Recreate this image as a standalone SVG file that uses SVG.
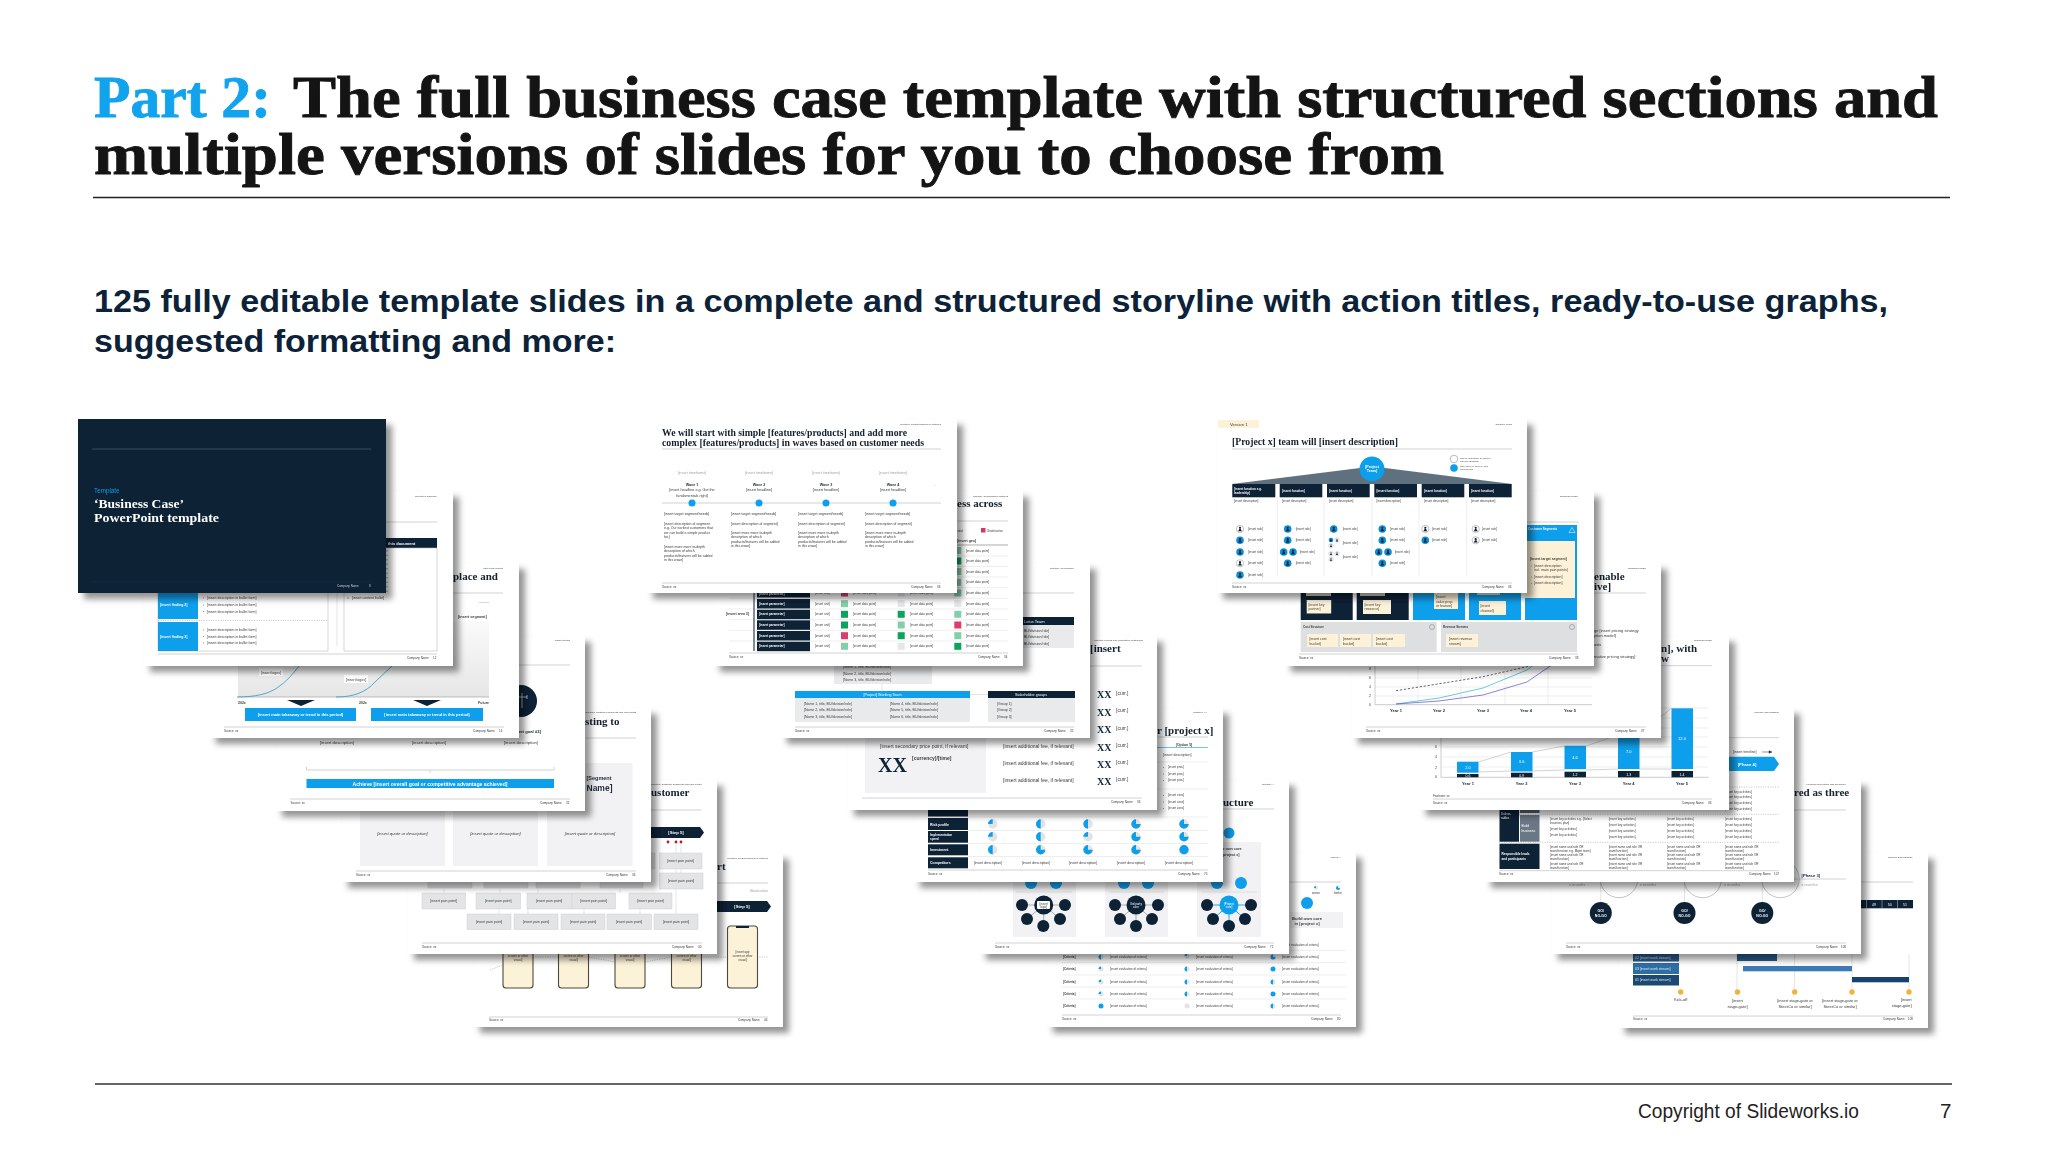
<svg xmlns="http://www.w3.org/2000/svg" xmlns:xlink="http://www.w3.org/1999/xlink" width="2048" height="1152" viewBox="0 0 2048 1152">
<style>
text{font-family:"Liberation Sans",Arial,sans-serif;fill:#3c3c3c}
.ti{font-family:"Liberation Serif","Times New Roman",serif;font-weight:700;font-size:59px;fill:#141414;stroke:#141414;stroke-width:.9}
.su{font-weight:700;font-size:32px;fill:#0b2238}
.st{font-family:"Liberation Serif",serif;font-weight:700;font-size:11px;fill:#12202e}
.f25{font-size:3px}.f25.e{font-size:2.5px}.f3{font-size:3.5px}.f33{font-size:3.7px}.f35{font-size:4px}.f4{font-size:4.2px}.f5{font-size:5px}
.b{font-weight:700}.m{text-anchor:middle}.e{text-anchor:end}.w{fill:#fff}.g{fill:#a5a5a5}.i{font-style:italic}.k{fill:#20303e}
.slide{fill:#fff;filter:url(#sh)}
.r{stroke:#c6c6c6;stroke-width:.8;fill:none}.rl{stroke:#e2e2e2;stroke-width:.6;fill:none}
.navy{fill:#0a2136}.blue{fill:#0b9fec}.gb{fill:#f2f2f4}.pp{fill:#e3e4e6;stroke:#cfcfcf;stroke-width:.5}.bg{fill:#fdf1d8}
.phone{fill:#fcf2d8;stroke:#4b4a40;stroke-width:1.1}
.dash{stroke:#999;stroke-width:.5;stroke-dasharray:1.2 1.2;fill:none}
.ln{stroke:#c9c9c9;stroke-width:.5;fill:none}
</style>
<defs>
<filter id="sh" x="-5%" y="-5%" width="112%" height="120%"><feDropShadow dx="6" dy="6" stdDeviation="3" flood-color="#000" flood-opacity=".42"/></filter>
<filter id="soft" filterUnits="userSpaceOnUse" x="0" y="380" width="2048" height="700"><feGaussianBlur stdDeviation=".3"/></filter>
<linearGradient id="gr" x1="0" y1="0" x2="0" y2="1"><stop offset="0" stop-color="#fafafa"/><stop offset="1" stop-color="#e6e6e6"/></linearGradient>
<g id="h0"><circle r="10" fill="#e3e3e3"/></g>
<g id="h25"><circle r="10" fill="#e3e3e3"/><path d="M0,0L0,-10A10,10 0 0 0 -10,0Z" fill="#0b9fec"/></g>
<g id="h50"><circle r="10" fill="#e3e3e3"/><path d="M0,-10A10,10 0 0 0 0,10Z" fill="#0b9fec"/></g>
<g id="h75"><circle r="10" fill="#e3e3e3"/><path d="M0,0L0,-10A10,10 0 1 0 10,0Z" fill="#0b9fec"/></g>
<g id="h100"><circle r="10" fill="#0b9fec"/></g>
<g id="pb"><circle r="10" fill="#0b8fd6"/><circle cy="-3" r="2.8" fill="#0a2136"/><path d="M-5,6L-2,0H2L5,6Z" fill="#0a2136"/></g>
<g id="po"><circle r="9.5" fill="#fff" stroke="#777" stroke-width="1.2"/><circle cy="-3" r="2.8" fill="#0a2136"/><path d="M-5,6L-2,0H2L5,6Z" fill="#0a2136"/></g>
</defs>
<rect width="2048" height="1152" fill="#fff"/>

<g id="heading">
<text class="ti"><tspan x="94" y="117" textLength="177" lengthAdjust="spacingAndGlyphs" style="fill:#12a3ee;stroke:#12a3ee">Part 2:</tspan><tspan x="293" y="117" textLength="1645" lengthAdjust="spacingAndGlyphs">The full business case template with structured sections and</tspan><tspan x="94" y="174" textLength="1350" lengthAdjust="spacingAndGlyphs">multiple versions of slides for you to choose from</tspan></text>
<line x1="93" y1="197.5" x2="1950" y2="197.5" stroke="#222" stroke-width="1.6"/>
<text class="su"><tspan x="94" y="312" textLength="1794" lengthAdjust="spacingAndGlyphs">125 fully editable template slides in a complete and structured storyline with action titles, ready-to-use graphs,</tspan><tspan x="94" y="352" textLength="522" lengthAdjust="spacingAndGlyphs">suggested formatting and more:</tspan></text>
</g>

<g id="footer">
<line x1="95" y1="1084" x2="1952" y2="1084" stroke="#333" stroke-width="1.6"/>
<text x="1638" y="1118" font-size="20.5" style="fill:#222" textLength="221" lengthAdjust="spacingAndGlyphs">Copyright of Slideworks.io</text>
<text x="1940" y="1118" font-size="20.5" style="fill:#222">7</text>
</g>

<g id="stack-1" filter="url(#soft)">
<g id="s1-7">
<rect class="slide" x="474" y="853" width="309" height="174"/>
<text class="f25 e" x="768" y="858.5">Solution: Product offering or features</text>
<text class="st" x="717" y="870">rt</text>
<line class="r" x1="717" y1="883" x2="768" y2="883"/>
<text class="f35 e g" x="768" y="892">Illustrative</text>
<path class="navy" d="M712,901H767L771,906.5L767,912H712Z"/>
<text class="f4 w b m" x="742" y="908">[Step 5]</text>
<path class="dash" d="M490,970L503,965M533,957H558M589,957L615,962M645,962L671,957M701,957H727M757,957H768"/>
<rect class="phone" x="503" y="926" width="30" height="62" rx="3"/><rect class="phone" x="558.5" y="926" width="30" height="62" rx="3"/><rect class="phone" x="615" y="926" width="30" height="62" rx="3"/><rect class="phone" x="671.5" y="926" width="30" height="62" rx="3"/><rect class="phone" x="727.5" y="926" width="30" height="62" rx="3"/>
<rect class="navy" x="736" y="926" width="13" height="2"/>
<text class="f25 m" x="518" y="957">screen or other</text><text class="f25 m" x="518" y="961">visual]</text>
<text class="f25 m" x="573.5" y="957">screen or other</text><text class="f25 m" x="573.5" y="961">visual]</text>
<text class="f25 m" x="630" y="957">screen or other</text><text class="f25 m" x="630" y="961">visual]</text>
<text class="f25 m" x="686.5" y="957">screen or other</text><text class="f25 m" x="686.5" y="961">visual]</text>
<text class="f25 m" x="742.5" y="953">[insert app</text><text class="f25 m" x="742.5" y="957">screen or other</text><text class="f25 m" x="742.5" y="961">visual]</text>
<line class="r" x1="489" y1="1017" x2="768" y2="1017"/>
<text class="f25" x="489" y="1021">Source: xx</text><text class="f25" x="738" y="1021">Company Name</text><text class="f25" x="764" y="1021">46</text>
</g>
<g id="s1-6">
<rect class="slide" x="408" y="780" width="309" height="174"/>
<text class="f25 e" x="701.5" y="785">Solution: Customer segments and pain points</text>
<text class="st" x="651" y="796">ustomer</text>
<line class="r" x1="651" y1="810" x2="701.5" y2="810"/>
<path class="navy" d="M645,827H700L704,832.5L700,838H645Z"/>
<text class="f4 w b m" x="676" y="834">[Step 5]</text>
<circle cx="668" cy="842" r="1.4" fill="#c3122b"/><circle cx="676" cy="842" r="1.4" fill="#c3122b"/><circle cx="681" cy="842" r="1.4" fill="#c3122b"/>
<path class="ln" d="M676,843V853M681,843V853M676,869V873M681,869V873M676,889V914M500,889V893M444,889V893M538,889V893M620,889V893M499,909V914M528,909V914M584,909V914M640,909V914"/>
<rect class="pp" x="645" y="853" width="10" height="16"/><rect class="pp" x="659.5" y="853" width="42.5" height="16"/><text class="f3 m" x="680.5" y="862">[insert pain point]</text>
<rect class="pp" x="659.5" y="873" width="43.5" height="16"/><text class="f3 m" x="681" y="882">[insert pain point]</text>
<rect class="pp" x="428" y="880" width="44" height="8"/><rect class="pp" x="484" y="880" width="44" height="8"/><rect class="pp" x="536" y="880" width="44" height="8"/><rect class="pp" x="600" y="880" width="43" height="8"/>
<rect class="pp" x="422" y="893" width="43.5" height="16"/><text class="f3 m" x="443.7" y="902">[insert pain point]</text>
<rect class="pp" x="476" y="893" width="44.5" height="16"/><text class="f3 m" x="498.2" y="902">[insert pain point]</text>
<rect class="pp" x="527" y="893" width="44.5" height="16"/><text class="f3 m" x="549" y="902">[insert pain point]</text>
<rect class="pp" x="572" y="893" width="43.5" height="16"/><text class="f3 m" x="593.7" y="902">[insert pain point]</text>
<rect class="pp" x="629" y="893" width="43" height="16"/><text class="f3 m" x="650.5" y="902">[insert pain point]</text>
<rect class="pp" x="467" y="914" width="44" height="15.5"/><text class="f3 m" x="489" y="923">[insert pain point]</text>
<rect class="pp" x="514" y="914" width="44" height="15.5"/><text class="f3 m" x="536" y="923">[insert pain point]</text>
<rect class="pp" x="561" y="914" width="44" height="15.5"/><text class="f3 m" x="583" y="923">[insert pain point]</text>
<rect class="pp" x="607" y="914" width="44.5" height="15.5"/><text class="f3 m" x="629" y="923">[insert pain point]</text>
<rect class="pp" x="654" y="914" width="44" height="15.5"/><text class="f3 m" x="676" y="923">[insert pain point]</text>
<line class="r" x1="422" y1="943" x2="702" y2="943"/>
<text class="f25" x="422" y="947.5">Source: xx</text><text class="f25" x="672" y="947.5">Company Name</text><text class="f25" x="698" y="947.5">40</text>
</g>
<g id="s1-5">
<rect class="slide" x="342" y="708" width="309" height="174"/>
<text class="f25 e" x="636" y="713">Solution: Customer segments and pain points</text>
<text class="st" x="585" y="725">sting to</text>
<line class="r" x1="585" y1="738" x2="636" y2="738"/>
<rect class="gb" x="547" y="763" width="85.6" height="103"/><rect class="gb" x="360" y="800" width="85" height="66"/><rect class="gb" x="453" y="800" width="85" height="66"/>
<text class="b k" x="586.5" y="780" font-size="5.5">[Segment</text><text class="b k" x="586.5" y="790.5" font-size="8.5">Name]</text>
<text class="f4 i m" x="402.5" y="835">[insert quote or description]</text><text class="f4 i m" x="495.5" y="835">[insert quote or description]</text><text class="f4 i m" x="590" y="835">[insert quote or description]</text>
<line class="r" x1="356" y1="871" x2="636" y2="871"/>
<text class="f25" x="356" y="875.5">Source: xx</text><text class="f25" x="606" y="875.5">Company Name</text><text class="f25" x="632" y="875.5">36</text>
</g>
<g id="s1-4">
<rect class="slide" x="276" y="636" width="309" height="175"/>
<text class="f25 e" x="570" y="641">Market trends</text>
<line class="r" x1="518" y1="665" x2="570" y2="665"/>
<circle class="navy" cx="521" cy="701" r="16"/>
<path d="M518,697H527M522,693V708M527,695V699" stroke="#fff" stroke-width=".6" fill="none"/>
<text class="b k f4 e" x="541" y="732.5">[insert goal #3]</text>
<text class="f4 m" x="337" y="743.5">[insert description]</text><text class="f4 m" x="429" y="743.5">[insert description]</text><text class="f4 m" x="521" y="743.5">[insert description]</text>
<path class="r" d="M306.5,767V770H554V767M430,770V773"/>
<rect class="blue" x="306.5" y="779" width="247.5" height="9"/>
<text class="b w m" x="430" y="785.7" font-size="5.2" textLength="155" lengthAdjust="spacingAndGlyphs">Achieve [insert overall goal or competitive advantage achieved]</text>
<line class="r" x1="290" y1="799" x2="570" y2="799"/>
<text class="f25" x="290.5" y="803.5">Source: xx</text><text class="f25" x="540" y="803.5">Company Name</text><text class="f25" x="566" y="803.5">31</text>
</g>
<g id="s1-3">
<rect class="slide" x="210" y="563" width="309" height="175"/>
<text class="f25 e" x="503" y="569">Part of the market</text>
<text class="st" x="453" y="580">place and</text>
<line class="r" x1="453" y1="593" x2="503" y2="593"/>
<text class="f25 e g" x="490" y="603">Illustrative</text>
<text class="f33 b" x="458" y="618">[insert segment]</text>
<rect x="238" y="622" width="251" height="75" fill="url(#gr)"/>
<line x1="238" y1="697" x2="489" y2="697" stroke="#999" stroke-width=".6"/>
<path d="M237,697C255,697 268,694 277,688C286,682 293,674 299,666M336,697C354,697 366,692 375,682L392,666" stroke="#2a98cc" stroke-width=".8" fill="none"/>
<rect x="259" y="668" width="24" height="8" fill="#fff"/><text class="f3 m" x="271" y="673.5">[insert logos]</text>
<rect x="344" y="675" width="24" height="8" fill="#fff"/><text class="f3 m" x="356" y="680.5">[insert logos]</text>
<text class="f3 b" x="238" y="703.5">202x</text><text class="f3 b" x="359" y="703.5">202x</text><text class="f3 b e" x="489" y="703.5">Future</text>
<path class="navy" d="M287,700H315L301,706ZM413,700H441L427,706Z"/>
<rect class="blue" x="245" y="708" width="111" height="13"/><rect class="blue" x="371" y="708" width="112" height="13"/>
<text class="f35 b w m" x="300.5" y="716">[insert main takeaway or trend in this period]</text>
<text class="f35 b w m" x="427" y="716">[insert main takeaway or trend in this period]</text>
<line class="r" x1="224" y1="727" x2="504" y2="727"/>
<text class="f25" x="224" y="731.5">Source: xx</text><text class="f25" x="473" y="731.5">Company Name</text><text class="f25" x="499" y="731.5">14</text>
</g>
<g id="s1-2">
<rect class="slide" x="144" y="491" width="309" height="175"/>
<text class="f25 e" x="437" y="497">Executive summary</text>
<line class="r" x1="386" y1="522" x2="437" y2="522"/>
<rect class="navy" x="344" y="538" width="93" height="10"/>
<text class="b w" x="388" y="544.7" font-size="4">this document</text>
<rect x="344" y="548" width="93" height="103" fill="none" stroke="#bbb" stroke-width=".6"/>
<rect x="158" y="560" width="170" height="91" fill="none" stroke="#bbb" stroke-width=".6"/>
<line x1="387" y1="550" x2="387" y2="592" stroke="#666" stroke-width=".8" stroke-dasharray="1.5 3"/>
<text class="f3" x="352" y="599">[insert content bullet]</text><circle cx="348" cy="598" r=".6" fill="#444"/>
<rect class="blue" x="158" y="560" width="40" height="59"/><rect class="blue" x="158" y="622" width="40" height="29"/>
<text class="f3 b w" x="160" y="606.3">[insert finding 2]</text><text class="f3 b w" x="160" y="637.7">[insert finding 3]</text>
<line class="dash" x1="158" y1="620.5" x2="327" y2="620.5"/>
<line class="ln" x1="337" y1="560" x2="337" y2="646"/>
<text class="f3" x="207" y="599">[insert description in bullet form]</text><text class="f3" x="207" y="606">[insert description in bullet form]</text><text class="f3" x="207" y="612.5">[insert description in bullet form]</text>
<text class="f3" x="207" y="631">[insert description in bullet form]</text><text class="f3" x="207" y="637.5">[insert description in bullet form]</text><text class="f3" x="207" y="644">[insert description in bullet form]</text>
<path d="M203,598h.8M203,605h.8M203,611.5h.8M203,630h.8M203,636.5h.8M203,643h.8" stroke="#555" stroke-width=".8"/>
<line class="r" x1="158" y1="654" x2="437" y2="654"/>
<text class="f25" x="407" y="658.5">Company Name</text><text class="f25" x="433" y="658.5">12</text>
</g>
<g id="s1-1">
<rect x="78" y="419" width="308" height="174" fill="#0a2136" filter="url(#sh)"/>
<line x1="92" y1="449" x2="371" y2="449" stroke="#4e6274" stroke-width=".7"/>
<text x="94" y="493" font-size="6.3" style="fill:#1499e0">Template</text>
<text class="st w" x="94" y="508" style="fill:#fff;font-size:12.6px" textLength="90" lengthAdjust="spacingAndGlyphs">‘Business Case’</text>
<text class="st w" x="94" y="522" style="fill:#fff;font-size:12.6px" textLength="125" lengthAdjust="spacingAndGlyphs">PowerPoint template</text>
<line x1="92" y1="582" x2="371" y2="582" stroke="#1c3347" stroke-width=".6"/>
<text class="f25" x="337" y="587" style="fill:#ccd">Company Name</text><text class="f25" x="369" y="587" style="fill:#ccd">8</text>
</g>
</g>

<g id="stack-2" filter="url(#soft)">
<g id="s2-7">
<rect class="slide" x="1047" y="852" width="309" height="175"/>
<text class="f25 e" x="1341" y="857.5">Assess: Y</text>
<line class="r" x1="1289" y1="882" x2="1341" y2="882"/>
<use href="#h25" transform="translate(1316,888) scale(.2)"/><use href="#h75" transform="translate(1338,888) scale(.2)"/>
<text class="f25 m" x="1316" y="894">worse</text><text class="f25 m" x="1338" y="894">better</text>
<rect class="gb" x="1290" y="912" width="53" height="16"/>
<circle class="blue" cx="1307" cy="903" r="6"/>
<text class="f4 b m" x="1307" y="919.5">Build own core</text><text class="f4 b m" x="1307" y="925">in [project x]</text>
<path class="rl" d="M1062,950.5H1346M1062,962.7H1346M1062,975H1346M1062,987H1346M1062,999H1346"/>
<text class="f25" x="1282" y="946">[insert evaluation of criteria]</text>
<text class="f25 b" x="1063" y="958">[Criteria]</text><text class="f25 b" x="1063" y="970">[Criteria]</text><text class="f25 b" x="1063" y="983">[Criteria]</text><text class="f25 b" x="1063" y="995">[Criteria]</text><text class="f25 b" x="1063" y="1007">[Criteria]</text>
<text class="f25" x="1110" y="958">[insert evaluation of criteria]</text><text class="f25" x="1196" y="958">[insert evaluation of criteria]</text><text class="f25" x="1282" y="958">[insert evaluation of criteria]</text>
<text class="f25" x="1110" y="970">[insert evaluation of criteria]</text><text class="f25" x="1196" y="970">[insert evaluation of criteria]</text><text class="f25" x="1282" y="970">[insert evaluation of criteria]</text>
<text class="f25" x="1110" y="983">[insert evaluation of criteria]</text><text class="f25" x="1196" y="983">[insert evaluation of criteria]</text><text class="f25" x="1282" y="983">[insert evaluation of criteria]</text>
<text class="f25" x="1110" y="995">[insert evaluation of criteria]</text><text class="f25" x="1196" y="995">[insert evaluation of criteria]</text><text class="f25" x="1282" y="995">[insert evaluation of criteria]</text>
<text class="f25" x="1110" y="1007">[insert evaluation of criteria]</text><text class="f25" x="1196" y="1007">[insert evaluation of criteria]</text><text class="f25" x="1282" y="1007">[insert evaluation of criteria]</text>
<use href="#h50" transform="translate(1101,957) scale(.25)"/><use href="#h25" transform="translate(1187,956) scale(.25)"/><use href="#h75" transform="translate(1273,957) scale(.25)"/>
<use href="#h25" transform="translate(1101,969) scale(.25)"/><use href="#h50" transform="translate(1187,969) scale(.25)"/><use href="#h100" transform="translate(1273,969) scale(.25)"/>
<use href="#h25" transform="translate(1101,982) scale(.25)"/><use href="#h50" transform="translate(1187,982) scale(.25)"/><use href="#h50" transform="translate(1273,982) scale(.25)"/>
<use href="#h25" transform="translate(1101,994) scale(.25)"/><use href="#h50" transform="translate(1187,994) scale(.25)"/><use href="#h100" transform="translate(1273,994) scale(.25)"/>
<use href="#h100" transform="translate(1101,1006) scale(.25)"/><use href="#h0" transform="translate(1187,1006) scale(.25)"/><use href="#h50" transform="translate(1273,1006) scale(.25)"/>
<line class="r" x1="1062" y1="1015" x2="1341" y2="1015"/>
<text class="f25" x="1062" y="1019.5">Source: xx</text><text class="f25" x="1311" y="1019.5">Company Name</text><text class="f25" x="1337" y="1019.5">80</text>
</g>
<g id="s2-6">
<rect class="slide" x="980" y="780" width="309" height="174"/>
<text class="f25 e" x="1274" y="785">Solution: Y</text>
<text class="st" x="1223" y="806">ucture</text>
<line class="r" x1="1223" y1="809" x2="1274" y2="809"/>
<rect class="gb" x="1197" y="842" width="64" height="95"/><rect class="gb" x="1013" y="870" width="63" height="67"/><rect class="gb" x="1105" y="870" width="63" height="67"/>
<circle class="blue" cx="1229" cy="833" r="5.5"/>
<text class="f33 b" x="1223" y="850">r own core</text><text class="f33 b" x="1223" y="855.5">project x]</text>
<circle class="blue" cx="1031" cy="883" r="6"/><circle class="blue" cx="1056" cy="883" r="6"/><circle class="blue" cx="1124" cy="883" r="6"/><circle class="blue" cx="1148" cy="883" r="6"/><circle class="blue" cx="1217" cy="883" r="6"/><circle class="blue" cx="1241" cy="883" r="6"/>
<path class="ln" d="M1016,892H1072M1109,892H1164M1202,892H1257"/>
<path d="M1022,905H1065M1043.7,905L1027,919M1043.7,905L1060,919M1043.7,905V926M1115,905H1158M1136,905L1120,919M1136,905L1152,919M1136,905V926" stroke="#5b6a78" stroke-width=".5"/>
<path d="M1207,905H1251M1229,905L1213,919M1229,905L1245,919M1229,905V926" stroke="#0b9fec" stroke-width=".9"/>
<g class="navy"><circle cx="1022" cy="905" r="6"/><circle cx="1065" cy="905" r="6"/><circle cx="1027" cy="919" r="6"/><circle cx="1060" cy="919" r="6"/><circle cx="1043.3" cy="926" r="6"/><circle cx="1043.7" cy="905" r="9.5"/>
<circle cx="1115" cy="905" r="6"/><circle cx="1158" cy="905" r="6"/><circle cx="1120" cy="919" r="6"/><circle cx="1152" cy="919" r="6"/><circle cx="1136" cy="926" r="6"/><circle cx="1136" cy="905" r="9.5"/>
<circle cx="1207" cy="905" r="6"/><circle cx="1251" cy="905" r="6"/><circle cx="1213" cy="919" r="6"/><circle cx="1245" cy="919" r="6"/><circle cx="1229" cy="926" r="6"/></g>
<rect x="1037" y="901" width="13" height="8" rx="1" fill="#fff"/><text class="f25 m" x="1043.7" y="904.5">[insert</text><text class="f25 m" x="1043.7" y="907.7">logo]</text>
<text class="f25 m w" x="1136" y="904.5">3rd party</text><text class="f25 m w" x="1136" y="907.7">core</text>
<circle class="blue" cx="1229" cy="905" r="9.5"/>
<text class="f25 m w" x="1229" y="904.5">[Project</text><text class="f25 m w" x="1229" y="907.7">core]</text>
<line class="r" x1="995" y1="943" x2="1274" y2="943"/>
<text class="f25" x="995" y="947.5">Source: xx</text><text class="f25" x="1244" y="947.5">Company Name</text><text class="f25" x="1270" y="947.5">71</text>
</g>
<g id="s2-5">
<rect class="slide" x="914" y="708" width="309" height="174"/>
<text class="f25 e" x="1207" y="713">Solution: XY</text>
<text class="st" x="1157" y="734">r [project x]</text>
<line class="r" x1="1157" y1="737" x2="1208" y2="737"/>
<text class="f3 b m" x="1184" y="746">[Option 5]</text>
<line x1="1157" y1="747.5" x2="1208" y2="747.5" stroke="#0b9fec" stroke-width=".6"/>
<text class="f3" x="1163" y="756">[insert description]</text>
<path class="rl" d="M1157,762H1208M1157,789H1208M928,817H1208M968,830.5H1208M968,843.5H1208M968,856.5H1208"/>
<text class="f25" x="1168" y="768">[insert pros]</text><text class="f25" x="1168" y="774.5">[insert pros]</text><text class="f25" x="1168" y="781">[insert pros]</text>
<text class="f25" x="1168" y="796">[insert cons]</text><text class="f25" x="1168" y="802.5">[insert cons]</text><text class="f25" x="1168" y="809">[insert cons]</text>
<path d="M1163,767.5h.8M1163,774h.8M1163,780.5h.8M1163,795.5h.8M1163,802h.8M1163,808.5h.8" stroke="#555" stroke-width=".7"/>
<g class="navy"><rect x="928" y="805" width="40" height="11.5"/><rect x="928" y="818" width="40" height="12"/><rect x="928" y="831" width="40" height="11.7"/><rect x="928" y="844.3" width="40" height="11"/><rect x="928" y="857.3" width="40" height="11"/></g>
<text class="f3 b w" x="930" y="825.5">Risk profile</text><text class="f25 b w" x="930" y="836">Implementation</text><text class="f25 b w" x="930" y="840">speed</text><text class="f3 b w" x="930" y="851">Investment</text><text class="f3 b w" x="930" y="864">Competitors</text>
<use href="#h25" transform="translate(992.7,824) scale(.47)"/><use href="#h50" transform="translate(1040.7,824) scale(.47)"/><use href="#h50" transform="translate(1088,824) scale(.47)"/><use href="#h75" transform="translate(1136,824) scale(.47)"/><use href="#h75" transform="translate(1184,824) scale(.47)"/>
<use href="#h25" transform="translate(992.7,836.7) scale(.47)"/><use href="#h50" transform="translate(1040.7,836.7) scale(.47)"/><use href="#h25" transform="translate(1088,836.7) scale(.47)"/><use href="#h75" transform="translate(1136,836.7) scale(.47)"/><use href="#h75" transform="translate(1184,836.7) scale(.47)"/>
<use href="#h50" transform="translate(992.7,849.7) scale(.47)"/><use href="#h75" transform="translate(1040.7,849.7) scale(.47)"/><use href="#h75" transform="translate(1088,849.7) scale(.47)"/><use href="#h75" transform="translate(1136,849.7) scale(.47)"/><use href="#h100" transform="translate(1184,849.7) scale(.47)"/>
<text class="f3 m" x="988" y="864">[insert description]</text><text class="f3 m" x="1036" y="864">[insert description]</text><text class="f3 m" x="1083" y="864">[insert description]</text><text class="f3 m" x="1131" y="864">[insert description]</text><text class="f3 m" x="1179" y="864">[insert description]</text>
<line class="r" x1="928" y1="870" x2="1208" y2="870"/>
<text class="f25" x="928" y="875">Source: xx</text><text class="f25" x="1178" y="875">Company Name</text><text class="f25" x="1204" y="875">70</text>
</g>
<g id="s2-4">
<rect class="slide" x="848" y="636" width="309" height="174"/>
<text class="f25" x="1094" y="641" style="font-size:2.5px">Solution: Pricing and competitive positioning</text>
<text class="st" x="1090" y="652">[insert</text>
<line class="r" x1="1090" y1="666" x2="1142" y2="666"/>
<rect class="gb" x="865" y="720" width="121" height="73"/>
<text class="f5" x="880" y="748">[insert secondary price point, if relevant]</text>
<text x="878" y="772" font-size="20" font-weight="700" style="font-family:'Liberation Serif',serif;fill:#0a2136">XX</text>
<text class="f5 b" x="912" y="759.5">[currency]/[time]</text>
<text class="f5" x="1003" y="748">[insert additional fee, if relevant]</text><text class="f5" x="1003" y="765">[insert additional fee, if relevant]</text><text class="f5" x="1003" y="782">[insert additional fee, if relevant]</text>
<g style="font-size:10px;font-weight:700"><text x="1097" y="698" style="font-family:'Liberation Serif',serif;fill:#0a2136">XX</text><text x="1097" y="716" style="font-family:'Liberation Serif',serif;fill:#0a2136">XX</text><text x="1097" y="733" style="font-family:'Liberation Serif',serif;fill:#0a2136">XX</text><text x="1097" y="751" style="font-family:'Liberation Serif',serif;fill:#0a2136">XX</text><text x="1097" y="768" style="font-family:'Liberation Serif',serif;fill:#0a2136">XX</text><text x="1097" y="785" style="font-family:'Liberation Serif',serif;fill:#0a2136">XX</text></g>
<text class="f5" x="1116" y="694.5">[curr.]</text><text class="f5" x="1116" y="712">[curr.]</text><text class="f5" x="1116" y="729.5">[curr.]</text><text class="f5" x="1116" y="746.5">[curr.]</text><text class="f5" x="1116" y="763.5">[curr.]</text><text class="f5" x="1116" y="780.5">[curr.]</text>
<line class="r" x1="862" y1="798" x2="1142" y2="798"/>
<text class="f25" x="1111" y="802.5">Company Name</text><text class="f25" x="1137" y="802.5">36</text>
</g>
<g id="s2-3">
<rect class="slide" x="781" y="563" width="309" height="175"/>
<text class="f25 e" x="1074" y="569">Solution: Governance</text>
<line class="r" x1="1023" y1="593" x2="1074" y2="593"/>
<rect class="navy" x="1000" y="617" width="74" height="8"/>
<text class="f35 w" x="1024" y="622.5">Lotus Team</text>
<rect x="1000" y="625" width="74" height="23" fill="#e9eaec"/>
<text class="f3" x="1024" y="631.5">BU/division/role]</text><text class="f3" x="1024" y="638">BU/division/role]</text><text class="f3" x="1024" y="644.5">BU/division/role]</text>
<rect x="834" y="650" width="98" height="34" fill="#e9eaec"/>
<text class="f3" x="843" y="668">[Name 1, title, BU/division/role]</text><text class="f3" x="843" y="674.5">[Name 2, title, BU/division/role]</text><text class="f3" x="843" y="681">[Name 3, title, BU/division/role]</text>
<line class="ln" x1="882" y1="684" x2="882" y2="691"/><line class="ln" x1="970" y1="694.5" x2="988" y2="694.5"/>
<rect class="blue" x="795" y="691" width="175" height="7"/><text class="f33 w m" x="882.5" y="696.2">[Project] Working Team</text>
<rect x="795" y="698" width="175" height="24" fill="#e9eaec"/>
<text class="f3" x="804" y="704.5">[Name 1, title, BU/division/role]</text><text class="f3" x="804" y="711">[Name 2, title, BU/division/role]</text><text class="f3" x="804" y="717.5">[Name 3, title, BU/division/role]</text>
<text class="f3" x="890" y="704.5">[Name 4, title, BU/division/role]</text><text class="f3" x="890" y="711">[Name 5, title, BU/division/role]</text><text class="f3" x="890" y="717.5">[Name 6, title, BU/division/role]</text>
<rect class="navy" x="988" y="691" width="87" height="7"/><text class="f33 w m" x="1031" y="696.2">Stakeholder groups</text>
<rect x="988" y="698" width="87" height="24" fill="#e9eaec"/>
<text class="f3" x="997" y="704.5">[Group 1]</text><text class="f3" x="997" y="711">[Group 2]</text><text class="f3" x="997" y="717.5">[Group 3]</text>
<line class="r" x1="795" y1="727" x2="1074" y2="727"/>
<text class="f25" x="795" y="731.5">Source: xx</text><text class="f25" x="1044" y="731.5">Company Name</text><text class="f25" x="1070" y="731.5">35</text>
</g>
<g id="s2-2">
<rect class="slide" x="714" y="491" width="309" height="175"/>
<text class="f25 e" x="1008" y="497">Solution: Geographical footprint</text>
<text class="st" x="957" y="507">ess across</text>
<line class="r" x1="957" y1="521" x2="1008" y2="521"/>
<text class="f25" x="957" y="532">utral</text>
<rect x="981" y="528" width="4.5" height="4.5" fill="#d8345f"/><text class="f25" x="987" y="532">Unattractive</text>
<text class="f3 b" x="957" y="542">[insert geo]</text>
<line x1="957" y1="545" x2="1008" y2="545" stroke="#555" stroke-width=".5"/>
<path class="rl" d="M957,556H1008M957,566.5H1008M957,577H1008M957,587.7H1008M729,598.3H1008M729,609H1008M729,619.7H1008M729,630.3H1008M729,641H1008"/>
<g fill="#82cfa9"><rect x="954.3" y="547" width="7" height="7"/><rect x="954.3" y="568" width="7" height="7"/><rect x="954.3" y="578.8" width="7" height="7"/><rect x="954.3" y="589.5" width="7" height="7"/><rect x="954.3" y="610.8" width="7" height="7"/><rect x="954.3" y="632.2" width="7" height="7"/><rect x="841" y="600.2" width="7" height="7"/><rect x="841" y="642.8" width="7" height="7"/><rect x="897.7" y="621.5" width="7" height="7"/></g>
<g fill="#0aa35c"><rect x="954.3" y="557.5" width="7" height="7"/><rect x="954.3" y="642.8" width="7" height="7"/><rect x="841" y="610.8" width="7" height="7"/><rect x="841" y="621.5" width="7" height="7"/><rect x="897.7" y="610.8" width="7" height="7"/><rect x="897.7" y="632.2" width="7" height="7"/></g>
<g fill="#e6e7e9"><rect x="954.3" y="600.2" width="7" height="7"/><rect x="897.7" y="600.2" width="7" height="7"/><rect x="897.7" y="642.8" width="7" height="7"/><rect x="897.7" y="589.5" width="7" height="7"/></g>
<g fill="#dd3d6b"><rect x="954.3" y="621.5" width="7" height="7"/><rect x="841" y="632.2" width="7" height="7"/><rect x="841" y="589.5" width="7" height="7"/></g>
<text class="f25" x="966" y="551.5">[insert data point]</text><text class="f25" x="966" y="562">[insert data point]</text><text class="f25" x="966" y="572.7">[insert data point]</text><text class="f25" x="966" y="583.3">[insert data point]</text><text class="f25" x="966" y="594">[insert data point]</text><text class="f25" x="966" y="604.7">[insert data point]</text><text class="f25" x="966" y="615.3">[insert data point]</text><text class="f25" x="966" y="626">[insert data point]</text><text class="f25" x="966" y="636.7">[insert data point]</text><text class="f25" x="966" y="647.3">[insert data point]</text>
<text class="f25" x="910" y="594">[insert data point]</text><text class="f25" x="910" y="604.7">[insert data point]</text><text class="f25" x="910" y="615.3">[insert data point]</text><text class="f25" x="910" y="626">[insert data point]</text><text class="f25" x="910" y="636.7">[insert data point]</text><text class="f25" x="910" y="647.3">[insert data point]</text>
<text class="f25" x="853" y="594">[insert data point]</text><text class="f25" x="853" y="604.7">[insert data point]</text><text class="f25" x="853" y="615.3">[insert data point]</text><text class="f25" x="853" y="626">[insert data point]</text><text class="f25" x="853" y="636.7">[insert data point]</text><text class="f25" x="853" y="647.3">[insert data point]</text>
<text class="f25" x="815" y="594">[insert unit]</text><text class="f25" x="815" y="604.7">[insert unit]</text><text class="f25" x="815" y="615.3">[insert unit]</text><text class="f25" x="815" y="626">[insert unit]</text><text class="f25" x="815" y="636.7">[insert unit]</text><text class="f25" x="815" y="647.3">[insert unit]</text>
<rect class="navy" x="753.5" y="585" width="1" height="66"/>
<g class="navy"><rect x="757" y="588" width="53" height="9.5"/><rect x="757" y="599" width="53" height="9.5"/><rect x="757" y="609.7" width="53" height="9.5"/><rect x="757" y="620.3" width="53" height="9.5"/><rect x="757" y="631" width="53" height="9.5"/><rect x="757" y="641.7" width="53" height="9.5"/></g>
<text class="f25 b w" x="759" y="594.5">[insert parameter]</text><text class="f25 b w" x="759" y="604.7">[insert parameter]</text><text class="f25 b w" x="759" y="615.3">[insert parameter]</text><text class="f25 b w" x="759" y="626">[insert parameter]</text><text class="f25 b w" x="759" y="636.7">[insert parameter]</text><text class="f25 b w" x="759" y="647.3">[insert parameter]</text>
<text class="f3 b" x="726" y="614.5">[insert area 3]</text>
<line class="r" x1="729" y1="653" x2="1008" y2="653"/>
<text class="f25" x="729" y="658">Source: xx</text><text class="f25" x="978" y="658">Company Name</text><text class="f25" x="1004" y="658">34</text>
</g>
<g id="s2-1">
<rect class="slide" x="647" y="419" width="310" height="174"/>
<text class="f25 e" x="941" y="424.5">Solution: Product offering or features</text>
<text class="st" x="662" y="436" style="font-size:10px" textLength="245" lengthAdjust="spacingAndGlyphs">We will start with simple [features/products] and add more</text>
<text class="st" x="662" y="445.5" style="font-size:10px" textLength="262" lengthAdjust="spacingAndGlyphs">complex [features/products] in waves based on customer needs</text>
<line class="r" x1="662" y1="449" x2="941" y2="449"/>
<text class="f33 m g" x="692" y="473.5">[insert timeframe]</text><text class="f33 m g" x="759" y="473.5">[insert timeframe]</text><text class="f33 m g" x="826" y="473.5">[insert timeframe]</text><text class="f33 m g" x="893" y="473.5">[insert timeframe]</text>
<text class="f33 b m k" x="692" y="485.5">Wave 1</text><text class="f33 b m k" x="759" y="485.5">Wave 2</text><text class="f33 b m k" x="826" y="485.5">Wave 3</text><text class="f33 b m k" x="893" y="485.5">Wave 4</text>
<text class="f33 m" x="692" y="491">[insert headline e.g. Get the</text><text class="f33 m" x="692" y="496.5">fundamentals right]</text><text class="f33 m" x="759" y="491">[insert headline]</text><text class="f33 m" x="826" y="491">[insert headline]</text><text class="f33 m" x="893" y="491">[insert headline]</text>
<text class="f33 m g" x="935" y="486">...</text>
<line class="r" x1="662" y1="503" x2="941" y2="503"/>
<circle class="blue" cx="692" cy="503" r="3.5"/><circle class="blue" cx="759" cy="503" r="3.5"/><circle class="blue" cx="826" cy="503" r="3.5"/><circle class="blue" cx="893" cy="503" r="3.5"/>
<text class="f3" x="664" y="515">[insert target segment/needs]</text><text class="f3" x="731" y="515">[insert target segment/needs]</text><text class="f3" x="798" y="515">[insert target segment/needs]</text><text class="f3" x="865" y="515">[insert target segment/needs]</text>
<text class="f3" x="664" y="524.5">[insert description of segment</text><text class="f3" x="664" y="529">e.g. Our earliest customers that</text><text class="f3" x="664" y="533.5">we can build a simple product</text><text class="f3" x="664" y="538">for.]</text>
<text class="f3" x="664" y="547.5">[insert more more in-depth</text><text class="f3" x="664" y="552">description of which</text><text class="f3" x="664" y="556.5">products/features will be added</text><text class="f3" x="664" y="561">in this wave]</text>
<text class="f3" x="731" y="524.5">[insert description of segment]</text><text class="f3" x="731" y="533.5">[insert more more in-depth</text><text class="f3" x="731" y="538">description of which</text><text class="f3" x="731" y="542.5">products/features will be added</text><text class="f3" x="731" y="547">in this wave]</text>
<text class="f3" x="798" y="524.5">[insert description of segment]</text><text class="f3" x="798" y="533.5">[insert more more in-depth</text><text class="f3" x="798" y="538">description of which</text><text class="f3" x="798" y="542.5">products/features will be added</text><text class="f3" x="798" y="547">in this wave]</text>
<text class="f3" x="865" y="524.5">[insert description of segment]</text><text class="f3" x="865" y="533.5">[insert more more in-depth</text><text class="f3" x="865" y="538">description of which</text><text class="f3" x="865" y="542.5">products/features will be added</text><text class="f3" x="865" y="547">in this wave]</text>
<line class="r" x1="662" y1="583" x2="941" y2="583"/>
<text class="f25" x="662" y="587.5">Source: xx</text><text class="f25" x="911" y="587.5">Company Name</text><text class="f25" x="937" y="587.5">36</text>
</g>
</g>

<g id="stack-3" filter="url(#soft)">
<g id="s3-7">
<rect class="slide" x="1619" y="853" width="309" height="175"/>
<text class="f25 e" x="1912.5" y="858">Timeline and roadmap</text>
<line class="r" x1="1861" y1="882" x2="1913" y2="882"/>
<rect class="navy" x="1861" y="900" width="52" height="8.3"/>
<path d="M1866.5,900V908.3M1882,900V908.3M1897.5,900V908.3" stroke="#fff" stroke-width=".4"/>
<text class="f3 w m" x="1874" y="905.5">49</text><text class="f3 w m" x="1889.7" y="905.5">50</text><text class="f3 w m" x="1905" y="905.5">51</text>
<path class="ln" d="M1737,954V992M1794.6,954V992M1852,954V992M1909,954V992"/>
<rect x="1633" y="950" width="46" height="11.5" fill="#2a5a8c"/><rect x="1633" y="963" width="46" height="11" fill="#2e6ea6"/><rect x="1633" y="975" width="46" height="10.5" fill="#1c4a72"/>
<text class="f3" x="1635" y="959" style="fill:#dbe6f0">02 [insert work stream]</text><text class="f3" x="1635" y="970" style="fill:#dbe6f0">03 [insert work stream]</text><text class="f3" x="1635" y="981" style="fill:#dbe6f0">01 [insert work stream]</text>
<rect x="1737" y="950" width="40" height="11" fill="#2a5a8c"/><rect x="1743" y="966" width="109" height="5.3" fill="#3a7ab5"/><rect x="1852" y="977" width="57" height="5.3" fill="#14426e"/>
<g fill="#f4b23c"><circle cx="1680.7" cy="992" r="2.7"/><circle cx="1737.5" cy="992" r="2.7"/><circle cx="1794.7" cy="992" r="2.7"/><circle cx="1852" cy="992" r="2.7"/><circle cx="1909" cy="992" r="2.7"/></g>
<text class="f35 m" x="1680.7" y="1001">Kick-off</text>
<text class="f35 m" x="1737.5" y="1002">[insert</text><text class="f35 m" x="1737.5" y="1007.5">stage-gate]</text>
<text class="f35 m" x="1795" y="1002">[insert stage-gate or</text><text class="f35 m" x="1795" y="1007.5">SteerCo or similar]</text>
<text class="f35 m" x="1840" y="1002">[insert stage-gate or</text><text class="f35 m" x="1840" y="1007.5">SteerCo or similar]</text>
<text class="f35 e" x="1911.7" y="1001">[insert</text><text class="f35 e" x="1911.7" y="1006.5">stage-gate]</text>
<line class="r" x1="1633" y1="1016" x2="1913" y2="1016"/>
<text class="f25" x="1633" y="1020">Source: xx</text><text class="f25" x="1883" y="1020">Company Name</text><text class="f25" x="1908" y="1020">109</text>
</g>
<g id="s3-6">
<rect class="slide" x="1552" y="780" width="309" height="174"/>
<text class="f25 e" x="1845.5" y="785">Financial projections and scenarios</text>
<text class="st" x="1794" y="796">red as three</text>
<line class="r" x1="1794" y1="810" x2="1846" y2="810"/>
<g fill="none" stroke="#8a8a8a" stroke-width=".5"><circle cx="1619" cy="879" r="18.7"/><circle cx="1702.7" cy="879" r="18.7"/><circle cx="1780.5" cy="879" r="18.7"/></g>
<path class="ln" d="M1600.8,870V902M1684.5,870V902M1762.3,870V902"/>
<text class="f35 g" x="1569" y="886">x months</text><text class="f35 g" x="1640" y="886">x months</text><text class="f35 g" x="1724" y="886">x months</text><text class="f35 g" x="1801.5" y="886">x months</text>
<text class="f4 b k" x="1801.5" y="876.5">[Phase 3]</text>
<line class="r" x1="1794" y1="879" x2="1846" y2="879"/>
<circle class="navy" cx="1600.8" cy="913" r="11"/><circle class="navy" cx="1684.5" cy="913" r="11"/><circle class="navy" cx="1762.3" cy="913" r="11"/>
<text class="f3 b w m" x="1600.8" y="912">GO/</text><text class="f3 b w m" x="1600.8" y="916.5">NO-GO</text><text class="f3 b w m" x="1684.5" y="912">GO/</text><text class="f3 b w m" x="1684.5" y="916.5">NO-GO</text><text class="f3 b w m" x="1762.3" y="912">GO/</text><text class="f3 b w m" x="1762.3" y="916.5">NO-GO</text>
<line class="r" x1="1566" y1="943" x2="1846" y2="943"/>
<text class="f25" x="1566" y="947.5">Source: xx</text><text class="f25" x="1816" y="947.5">Company Name</text><text class="f25" x="1841" y="947.5">108</text>
</g>
<g id="s3-5">
<rect class="slide" x="1485" y="708" width="309" height="174"/>
<text class="f25 e" x="1779" y="713">Timeline and roadmap</text>
<line class="r" x1="1727" y1="737.7" x2="1779" y2="737.7"/>
<text class="f3" x="1733" y="753">[insert timeline]</text>
<path d="M1762,752H1771M1769,750.8L1772,752L1769,753.2Z" stroke="#333" stroke-width=".5" fill="#333"/>
<path class="blue" d="M1720,756.7H1774L1779,764L1774,771H1720Z"/>
<text class="f4 b w m" x="1747" y="765.5">[Phase 4]</text>
<path class="dash" d="M1727,787H1779M1499,814.3H1779M1499,842.3H1779"/>
<text class="f25" x="1725" y="792.5">[insert key activities]</text><text class="f25" x="1725" y="798.2">[insert key activities]</text><text class="f25" x="1725" y="804">[insert key activities]</text><text class="f25" x="1725" y="809.5">[insert key activities]</text>
<rect class="navy" x="1499.5" y="805" width="19.5" height="36.7"/><rect x="1520" y="805" width="19.5" height="8" fill="#55616d"/><rect x="1520" y="815" width="19.5" height="26.7" fill="#6b7785"/>
<text class="f25 w" x="1501" y="814.5">Deliver-</text><text class="f25 w" x="1501" y="818.5">rables</text>
<text class="f3 w" x="1521.5" y="827">Build</text><text class="f3 w" x="1521.5" y="832">business</text>
<text class="f25" x="1550" y="819.5">[insert key activities e.g. [Select</text><text class="f25" x="1550" y="823.5">business plan]</text><text class="f25" x="1550" y="829.5">[insert key activities]</text><text class="f25" x="1550" y="835.5">[insert key activities]</text>
<text class="f25" x="1608.7" y="819.5">[insert key activities]</text><text class="f25" x="1608.7" y="825.5">[insert key activities]</text><text class="f25" x="1608.7" y="831.5">[insert key activities]</text><text class="f25" x="1608.7" y="837.5">[insert key activities]</text>
<text class="f25" x="1667" y="819.5">[insert key activities]</text><text class="f25" x="1667" y="825.5">[insert key activities]</text><text class="f25" x="1667" y="831.5">[insert key activities]</text><text class="f25" x="1667" y="837.5">[insert key activities]</text>
<text class="f25" x="1725" y="819.5">[insert key activities]</text><text class="f25" x="1725" y="825.5">[insert key activities]</text><text class="f25" x="1725" y="831.5">[insert key activities]</text><text class="f25" x="1725" y="837.5">[insert key activities]</text>
<rect class="navy" x="1499.5" y="843.7" width="40" height="25.3"/>
<text class="f3 b w" x="1501.5" y="855" style="font-size:3.2px">Responsible leads</text><text class="f3 b w" x="1501.5" y="859.7" style="font-size:3.2px">and participants</text>
<text class="f25" x="1550" y="847.5">[insert name and role OR</text><text class="f25" x="1550" y="851.5">team/function e.g. Mgmt team]</text><text class="f25" x="1550" y="856">[insert name and role OR</text><text class="f25" x="1550" y="860">team/function]</text><text class="f25" x="1550" y="864.5">[insert name and role OR</text><text class="f25" x="1550" y="868.5">team/function]</text>
<text class="f25" x="1608.7" y="847.5">[insert name and role OR</text><text class="f25" x="1608.7" y="851.5">team/function]</text><text class="f25" x="1608.7" y="856">[insert name and role OR</text><text class="f25" x="1608.7" y="860">team/function]</text><text class="f25" x="1608.7" y="864.5">[insert name and role OR</text><text class="f25" x="1608.7" y="868.5">team/function]</text>
<text class="f25" x="1667" y="847.5">[insert name and role OR</text><text class="f25" x="1667" y="851.5">team/function]</text><text class="f25" x="1667" y="856">[insert name and role OR</text><text class="f25" x="1667" y="860">team/function]</text><text class="f25" x="1667" y="864.5">[insert name and role OR</text><text class="f25" x="1667" y="868.5">team/function]</text>
<text class="f25" x="1725" y="847.5">[insert name and role OR</text><text class="f25" x="1725" y="851.5">team/function]</text><text class="f25" x="1725" y="856">[insert name and role OR</text><text class="f25" x="1725" y="860">team/function]</text><text class="f25" x="1725" y="864.5">[insert name and role OR</text><text class="f25" x="1725" y="868.5">team/function]</text>
<line class="r" x1="1499" y1="870.7" x2="1779" y2="870.7"/>
<text class="f25" x="1499" y="875">Source: xx</text><text class="f25" x="1749" y="875">Company Name</text><text class="f25" x="1774" y="875">107</text>
</g>
<g id="s3-4">
<rect class="slide" x="1420" y="636" width="309" height="174"/>
<text class="f25 e" x="1712" y="641">Business model</text>
<text class="st" x="1661" y="652">n], with</text><text class="st" x="1661" y="662">w</text>
<line class="r" x1="1661" y1="665.7" x2="1712" y2="665.7"/>
<path class="rl" d="M1441,708H1708M1441,718H1708M1441,728H1708M1441,737H1708M1441,747H1708M1441,757H1708M1441,767H1708"/>
<path d="M1441,700V777.3H1708.6" stroke="#999" stroke-width=".5" fill="none"/>
<text class="f3 m" x="1436" y="748">6</text><text class="f3 m" x="1436" y="758">4</text><text class="f3 m" x="1436" y="768.5">2</text><text class="f3 m" x="1436" y="778">0</text>
<path class="ln" d="M1478.5,762L1511,752M1532,752L1564.5,746M1586,746L1618,735M1639,735L1671.5,708M1478.5,772L1511,771M1532,771L1564.5,770M1586,770L1618,769M1639,769L1671.5,769" style="stroke:#a9a9a9"/>
<g class="blue"><rect x="1457" y="761.7" width="21.5" height="11"/><rect x="1511" y="752" width="21.5" height="19.5"/><rect x="1564.5" y="745.7" width="21.5" height="23.5"/><rect x="1618" y="720" width="21.5" height="49"/><rect x="1671.5" y="708.3" width="21.5" height="60.7"/></g>
<g class="navy"><rect x="1457" y="774" width="21.5" height="3.3"/><rect x="1511" y="772.7" width="21.5" height="4.6"/><rect x="1564.5" y="771.7" width="21.5" height="5.6"/><rect x="1618" y="771" width="21.5" height="6.3"/><rect x="1671.5" y="771" width="21.5" height="6.3"/></g>
<text class="f35 w m" x="1468" y="768.5">2.0</text><text class="f35 w m" x="1521.6" y="763">3.6</text><text class="f35 w m" x="1575" y="759">4.6</text><text class="f35 w m" x="1628.7" y="753">7.0</text><text class="f35 w m" x="1682" y="740">12.0</text>
<text class="f3 w m" x="1468" y="777">0.6</text><text class="f3 w m" x="1521.6" y="776.5">0.9</text><text class="f3 w m" x="1575" y="776">1.2</text><text class="f3 w m" x="1628.7" y="775.5">1.3</text><text class="f3 w m" x="1682" y="775.5">1.4</text>
<text class="f35 b m k" x="1468" y="784.5">Year 1</text><text class="f35 b m k" x="1521.6" y="784.5">Year 2</text><text class="f35 b m k" x="1575" y="784.5">Year 3</text><text class="f35 b m k" x="1628.7" y="784.5">Year 4</text><text class="f35 b m k" x="1682" y="784.5">Year 5</text>
<text class="f25" x="1433" y="797">Footnote: xx</text>
<line class="r" x1="1433" y1="799" x2="1712" y2="799"/>
<text class="f25" x="1433" y="803.5">Source: xx</text><text class="f25" x="1682" y="803.5">Company Name</text><text class="f25" x="1708" y="803.5">36</text>
</g>
<g id="s3-3">
<rect class="slide" x="1352" y="563" width="309" height="175"/>
<text class="f25 e" x="1646" y="568.5">Business model</text>
<text class="st" x="1594" y="580">enable</text><text class="st" x="1594" y="589.5">ive]</text>
<line class="r" x1="1594" y1="593" x2="1646" y2="593"/>
<text class="f35" x="1594" y="631.5">ge [insert pricing strategy</text><text class="f35" x="1594" y="637">ption model]</text><text class="f35" x="1594" y="646">osts</text><text class="f35" x="1594" y="658">rnative pricing strategy]</text>
<path class="rl" d="M1375,669H1592M1375,678H1592M1375,687H1592M1375,696H1592M1418,660V704M1461,660V704M1505,660V704M1548,660V704"/>
<path d="M1375,660V704.7H1592" stroke="#999" stroke-width=".5" fill="none"/>
<text class="f3 m" x="1370" y="670">8</text><text class="f3 m" x="1370" y="679">6</text><text class="f3 m" x="1370" y="688">4</text><text class="f3 m" x="1370" y="697">2</text><text class="f3 m" x="1370" y="706">0</text>
<path d="M1396,690.7L1483,676.7L1527,666.7L1535,664" stroke="#222" stroke-width=".7" stroke-dasharray="2.2 1.8" fill="none"/>
<path d="M1396,704L1439,698L1483,688L1527,670L1535,664" stroke="#2fb5c9" stroke-width=".7" fill="none"/>
<path d="M1396,704L1439,701L1483,695L1527,682L1556,662" stroke="#5a4fc4" stroke-width=".7" fill="none"/>
<text class="f35 b m k" x="1396" y="711.5">Year 1</text><text class="f35 b m k" x="1439" y="711.5">Year 2</text><text class="f35 b m k" x="1483" y="711.5">Year 3</text><text class="f35 b m k" x="1526" y="711.5">Year 4</text><text class="f35 b m k" x="1570" y="711.5">Year 5</text>
<line class="r" x1="1366" y1="727" x2="1646" y2="727"/>
<text class="f25" x="1366" y="731.5">Source: xx</text><text class="f25" x="1615" y="731.5">Company Name</text><text class="f25" x="1641" y="731.5">37</text>
</g>
<g id="s3-2">
<rect class="slide" x="1285" y="491" width="309" height="175"/>
<text class="f25 e" x="1578" y="497">Business model</text>
<line class="r" x1="1527" y1="522" x2="1579" y2="522"/>
<rect class="blue" x="1525" y="525" width="52" height="95"/>
<text class="f25 b w" x="1528" y="530">Customer Segments</text>
<path d="M1572,527.5L1575,532.5H1569Z" fill="none" stroke="#fff" stroke-width=".5"/>
<rect class="bg" x="1525" y="541" width="50" height="57"/>
<text class="f33 b" x="1530" y="559.5" style="font-size:3.4px">[insert target segment]</text>
<text class="f3" x="1534" y="566.5">[insert description</text><text class="f3" x="1534" y="571">incl. main pain points]</text><text class="f3" x="1534" y="577.5">[insert description]</text><text class="f3" x="1534" y="584">[insert description]</text>
<path d="M1531,566h.7M1531,577h.7M1531,583.5h.7" stroke="#555" stroke-width=".7"/>
<rect class="navy" x="1300.7" y="585" width="52" height="35"/><rect class="navy" x="1356.7" y="585" width="52" height="35"/><rect class="blue" x="1413" y="585" width="52" height="35"/><rect class="blue" x="1469" y="585" width="52" height="35"/>
<g class="bg"><rect x="1306" y="585" width="25" height="11" fill-opacity=".8"/><rect x="1360" y="585" width="25" height="11" fill-opacity=".8"/><rect x="1477" y="585" width="23" height="10" fill-opacity=".8"/>
<rect x="1306.7" y="600" width="24.5" height="13.5"/><rect x="1363" y="600" width="28" height="14"/><rect x="1434" y="585" width="24" height="24"/><rect x="1479" y="601" width="27" height="14"/></g>
<text class="f3" x="1308.5" y="605.5">[insert key</text><text class="f3" x="1308.5" y="610">partner]</text>
<text class="f3" x="1364.5" y="605.5">[insert key</text><text class="f3" x="1364.5" y="610">resource]</text>
<text class="f3" x="1436" y="598">[insert</text><text class="f3" x="1436" y="602.5">value prop</text><text class="f3" x="1436" y="607">or feature]</text>
<text class="f3" x="1480.5" y="607">[insert</text><text class="f3" x="1480.5" y="611.5">channel]</text>
<rect x="1300.7" y="622" width="136" height="30" fill="#dedfe0"/><rect x="1441" y="622" width="136" height="30" fill="#dedfe0"/>
<text class="f25 b" x="1303" y="627.5">Cost Structure</text><text class="f25 b" x="1443" y="627.5">Revenue Streams</text>
<rect class="bg" x="1307" y="634" width="31" height="13"/><rect class="bg" x="1340" y="634" width="31" height="13"/><rect class="bg" x="1373" y="634" width="32" height="13"/><rect class="bg" x="1446" y="634" width="32" height="13"/>
<text class="f3" x="1309.5" y="640">[insert cost</text><text class="f3" x="1309.5" y="644.5">bucket]</text><text class="f3" x="1343" y="640">[insert cost</text><text class="f3" x="1343" y="644.5">bucket]</text><text class="f3" x="1376" y="640">[insert cost</text><text class="f3" x="1376" y="644.5">bucket]</text><text class="f3" x="1449" y="640">[insert revenue</text><text class="f3" x="1449" y="644.5">stream]</text>
<circle cx="1432" cy="627" r="2.5" fill="none" stroke="#777" stroke-width=".5"/><circle cx="1572" cy="627" r="2.5" fill="none" stroke="#777" stroke-width=".5"/>
<line class="r" x1="1299" y1="654" x2="1578" y2="654"/>
<text class="f25" x="1299" y="658.5">Source: xx</text><text class="f25" x="1549" y="658.5">Company Name</text><text class="f25" x="1575" y="658.5">38</text>
</g>
<g id="s3-1">
<rect class="slide" x="1217" y="419" width="310" height="174"/>
<rect class="bg" x="1218" y="420" width="41" height="8"/>
<text class="f4" x="1230" y="425.7">Version 1</text>
<text class="f25 e" x="1512" y="424.5">Solution: Team</text>
<text class="st" x="1232" y="445" style="font-size:10px" textLength="166" lengthAdjust="spacingAndGlyphs">[Project x] team will [insert description]</text>
<line class="r" x1="1232" y1="449" x2="1512" y2="449"/>
<path d="M1232,484L1360,468H1385L1512,484Z" fill="#5f6f7e"/>
<circle class="blue" cx="1372" cy="469" r="12.5"/>
<text class="f33 b w m" x="1372" y="467.5">[Project</text><text class="f33 b w m" x="1372" y="472">Team]</text>
<circle cx="1454" cy="459" r="3.8" fill="#fff" stroke="#777" stroke-width=".5"/><circle class="blue" cx="1454" cy="468" r="3.8"/>
<text class="f25" x="1460" y="458.5" style="font-size:2.4px">Role to potentially be filled by</text><text class="f25" x="1460" y="461.8" style="font-size:2.4px">internal candidate</text><text class="f25" x="1460" y="467" style="font-size:2.4px">Role likely be filled by new</text><text class="f25" x="1460" y="470.3" style="font-size:2.4px">external hire</text>
<g class="navy"><rect x="1232.3" y="484" width="43" height="13.3"/><rect x="1279.7" y="484" width="42.6" height="13.3"/><rect x="1327" y="484" width="42.7" height="13.3"/><rect x="1374.3" y="484" width="42.7" height="13.3"/><rect x="1421.7" y="484" width="42.6" height="13.3"/><rect x="1469" y="484" width="42.7" height="13.3"/></g>
<text class="f25 b w" x="1234" y="489.5">[insert function e.g.</text><text class="f25 b w" x="1234" y="493.5">leadership]</text><text class="f25 b w" x="1282" y="491.7">[insert function]</text><text class="f25 b w" x="1329" y="491.7">[insert function]</text><text class="f25 b w" x="1376.5" y="491.7">[insert function]</text><text class="f25 b w" x="1424" y="491.7">[insert function]</text><text class="f25 b w" x="1471" y="491.7">[insert function]</text>
<text class="f25" x="1234" y="501.5">[insert description]</text><text class="f25" x="1282" y="501.5">[insert description]</text><text class="f25" x="1329" y="501.5">[insert description]</text><text class="f25" x="1376.5" y="501.5">[insert description]</text><text class="f25" x="1424" y="501.5">[insert description]</text><text class="f25" x="1471" y="501.5">[insert description]</text>
<path class="rl" d="M1277.3,497V576M1324,497V576M1372,497V576M1419,497V576M1466.7,497V576"/>
<use href="#po" transform="translate(1240,529) scale(.38)"/><use href="#pb" transform="translate(1240,540.3) scale(.38)"/><use href="#pb" transform="translate(1240,552) scale(.38)"/><use href="#po" transform="translate(1240,563.3) scale(.38)"/><use href="#pb" transform="translate(1240,575) scale(.38)"/>
<use href="#pb" transform="translate(1287.7,529) scale(.38)"/><use href="#pb" transform="translate(1287.7,540.3) scale(.38)"/><use href="#pb" transform="translate(1283.7,552) scale(.38)"/><use href="#pb" transform="translate(1293,552) scale(.38)"/><use href="#pb" transform="translate(1287.7,563.3) scale(.38)"/>
<use href="#pb" transform="translate(1333.7,529) scale(.38)"/><use href="#pb" transform="translate(1331,540) scale(.23)"/><use href="#po" transform="translate(1337,540) scale(.23)"/><use href="#po" transform="translate(1331,545.7) scale(.23)"/><use href="#po" transform="translate(1331,553.7) scale(.23)"/><use href="#po" transform="translate(1337,553.7) scale(.23)"/><use href="#po" transform="translate(1331,559.3) scale(.23)"/>
<use href="#pb" transform="translate(1382.3,529) scale(.38)"/><use href="#pb" transform="translate(1382.3,540.3) scale(.38)"/><use href="#pb" transform="translate(1378.7,552) scale(.38)"/><use href="#pb" transform="translate(1388,552) scale(.38)"/><use href="#pb" transform="translate(1382.3,563.3) scale(.38)"/>
<use href="#po" transform="translate(1425.3,529) scale(.38)"/><use href="#pb" transform="translate(1425.3,540.3) scale(.38)"/>
<use href="#po" transform="translate(1475.7,529) scale(.38)"/><use href="#po" transform="translate(1475.7,540.3) scale(.38)"/>
<text class="f25" x="1248" y="530">[insert role]</text><text class="f25" x="1248" y="541.3">[insert role]</text><text class="f25" x="1248" y="553">[insert role]</text><text class="f25" x="1248" y="564.3">[insert role]</text><text class="f25" x="1248" y="576">[insert role]</text>
<text class="f25" x="1295.7" y="530">[insert role]</text><text class="f25" x="1295.7" y="541.3">[insert role]</text><text class="f25" x="1299.7" y="553">[insert role]</text><text class="f25" x="1295.7" y="564.3">[insert role]</text>
<text class="f25" x="1342.7" y="530">[insert role]</text><text class="f25" x="1342.7" y="544">[insert role]</text><text class="f25" x="1342.7" y="557.5">[insert role]</text>
<text class="f25" x="1390" y="530">[insert role]</text><text class="f25" x="1390" y="541.3">[insert role]</text><text class="f25" x="1394.7" y="553">[insert role]</text><text class="f25" x="1390" y="564.3">[insert role]</text>
<text class="f25" x="1432" y="530">[insert role]</text><text class="f25" x="1432" y="541.3">[insert role]</text><text class="f25" x="1482" y="530">[insert role]</text><text class="f25" x="1482" y="541.3">[insert role]</text>
<line class="r" x1="1232" y1="583" x2="1512" y2="583"/>
<text class="f25" x="1232" y="587.5">Source: xx</text><text class="f25" x="1482" y="587.5">Company Name</text><text class="f25" x="1508" y="587.5">36</text>
</g>
</g>
</svg>
